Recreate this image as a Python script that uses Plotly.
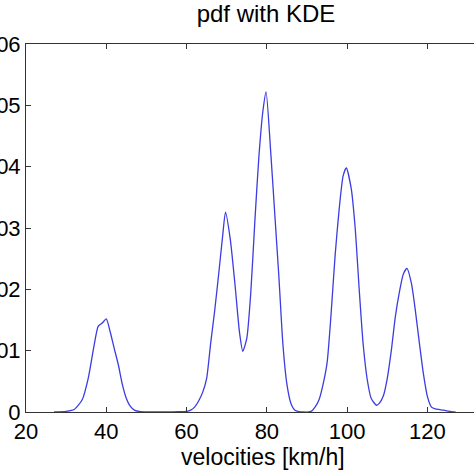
import plotly.graph_objects as go

# KDE curve
velocity = [27, 30, 32, 34, 35.5, 37, 38, 39, 40, 41, 42, 43, 44, 45, 46, 47, 48.5,
            52, 55, 58, 60, 61, 62, 63, 64, 65, 66, 67, 68, 69, 69.7, 70.9, 72.1, 73.2, 74,
            75, 76, 77, 78, 79, 79.8, 81, 82, 83, 84, 85, 86, 87, 89, 91, 92, 93, 94,
            95, 96, 97, 98, 99, 99.8, 101, 102, 103, 104, 105, 106, 107.3, 108, 109,
            110, 111, 112, 113, 114, 114.9, 116, 117, 118, 119, 120, 121, 122, 124, 126, 127]
density = [0, 0.0001, 0.0004, 0.0020, 0.0055, 0.0110, 0.0140, 0.0145, 0.0152, 0.0130,
           0.0103, 0.0077, 0.0045, 0.0022, 0.0009, 0.0003, 0.00005,
           0, 0, 0.00005, 0.0001, 0.0003, 0.0008, 0.0018, 0.0032, 0.0055, 0.0112, 0.0165,
           0.0225, 0.0288, 0.0326, 0.0281, 0.0205, 0.0129, 0.0099,
           0.0120, 0.0195, 0.0310, 0.0415, 0.0490, 0.0522, 0.0420, 0.0320, 0.0220,
           0.0110, 0.0045, 0.0014, 0.0003, 0, 0.0001, 0.0008, 0.0020, 0.0045,
           0.0080, 0.0160, 0.0255, 0.0330, 0.0385, 0.0398, 0.0365, 0.0300, 0.0200,
           0.0110, 0.0053, 0.0022, 0.0011, 0.0014, 0.0026,
           0.0055, 0.0100, 0.0155, 0.0195, 0.0225, 0.0234, 0.0210, 0.0165, 0.0112,
           0.0062, 0.0025, 0.0008, 0.0005, 0.0003, 0.00005, 0]

x_ticks = [20, 40, 60, 80, 100, 120]
y_ticks = [0, 0.01, 0.02, 0.03, 0.04, 0.05, 0.06]
y_tick_text = ["0", "0.01", "0.02", "0.03", "0.04", "0.05", "0.06"]

FONT = "Liberation Sans, Arial, sans-serif"
AX = "#333333"

fig = go.Figure()
fig.add_trace(go.Scatter(x=velocity, y=density, mode="lines",
                         line=dict(color="#3c3ce0", width=1.3, shape="spline", smoothing=0.6),
                         hoverinfo="skip"))

fig.update_layout(
    width=474, height=474,
    margin=dict(l=25.5, r=0, t=43.5, b=61.5, pad=0),
    paper_bgcolor="white", plot_bgcolor="white",
    showlegend=False,
    font=dict(family=FONT, size=22, color="black"),
    title=dict(text="pdf with KDE", x=266 / 474, xref="container", xanchor="center",
               y=1 - 14 / 474, yref="container", yanchor="middle",
               font=dict(family=FONT, size=24, color="black")),
    xaxis=dict(range=[20, 131.6], tickvals=x_ticks, ticks="inside", ticklen=5,
               tickcolor=AX, showline=True, linecolor=AX, linewidth=1, mirror="ticks",
               showgrid=False, zeroline=False, automargin=False,
               tickfont=dict(family=FONT, size=22, color="black")),
    yaxis=dict(range=[0, 0.06], tickvals=y_ticks, ticktext=y_tick_text, ticks="inside",
               ticklen=5, tickcolor=AX, showline=True, linecolor=AX, linewidth=1,
               showgrid=False, zeroline=False, automargin=False,
               tickfont=dict(family=FONT, size=22, color="black")),
    annotations=[dict(text="velocities [km/h]", x=79, xref="x", y=0, yref="y domain",
                      yshift=-45, showarrow=False, xanchor="center", yanchor="middle",
                      font=dict(family=FONT, size=23, color="black"))],
)

fig.write_html("out.html", config={"displayModeBar": False},
               post_script="document.body.style.margin='0';document.body.style.overflow='hidden';")
